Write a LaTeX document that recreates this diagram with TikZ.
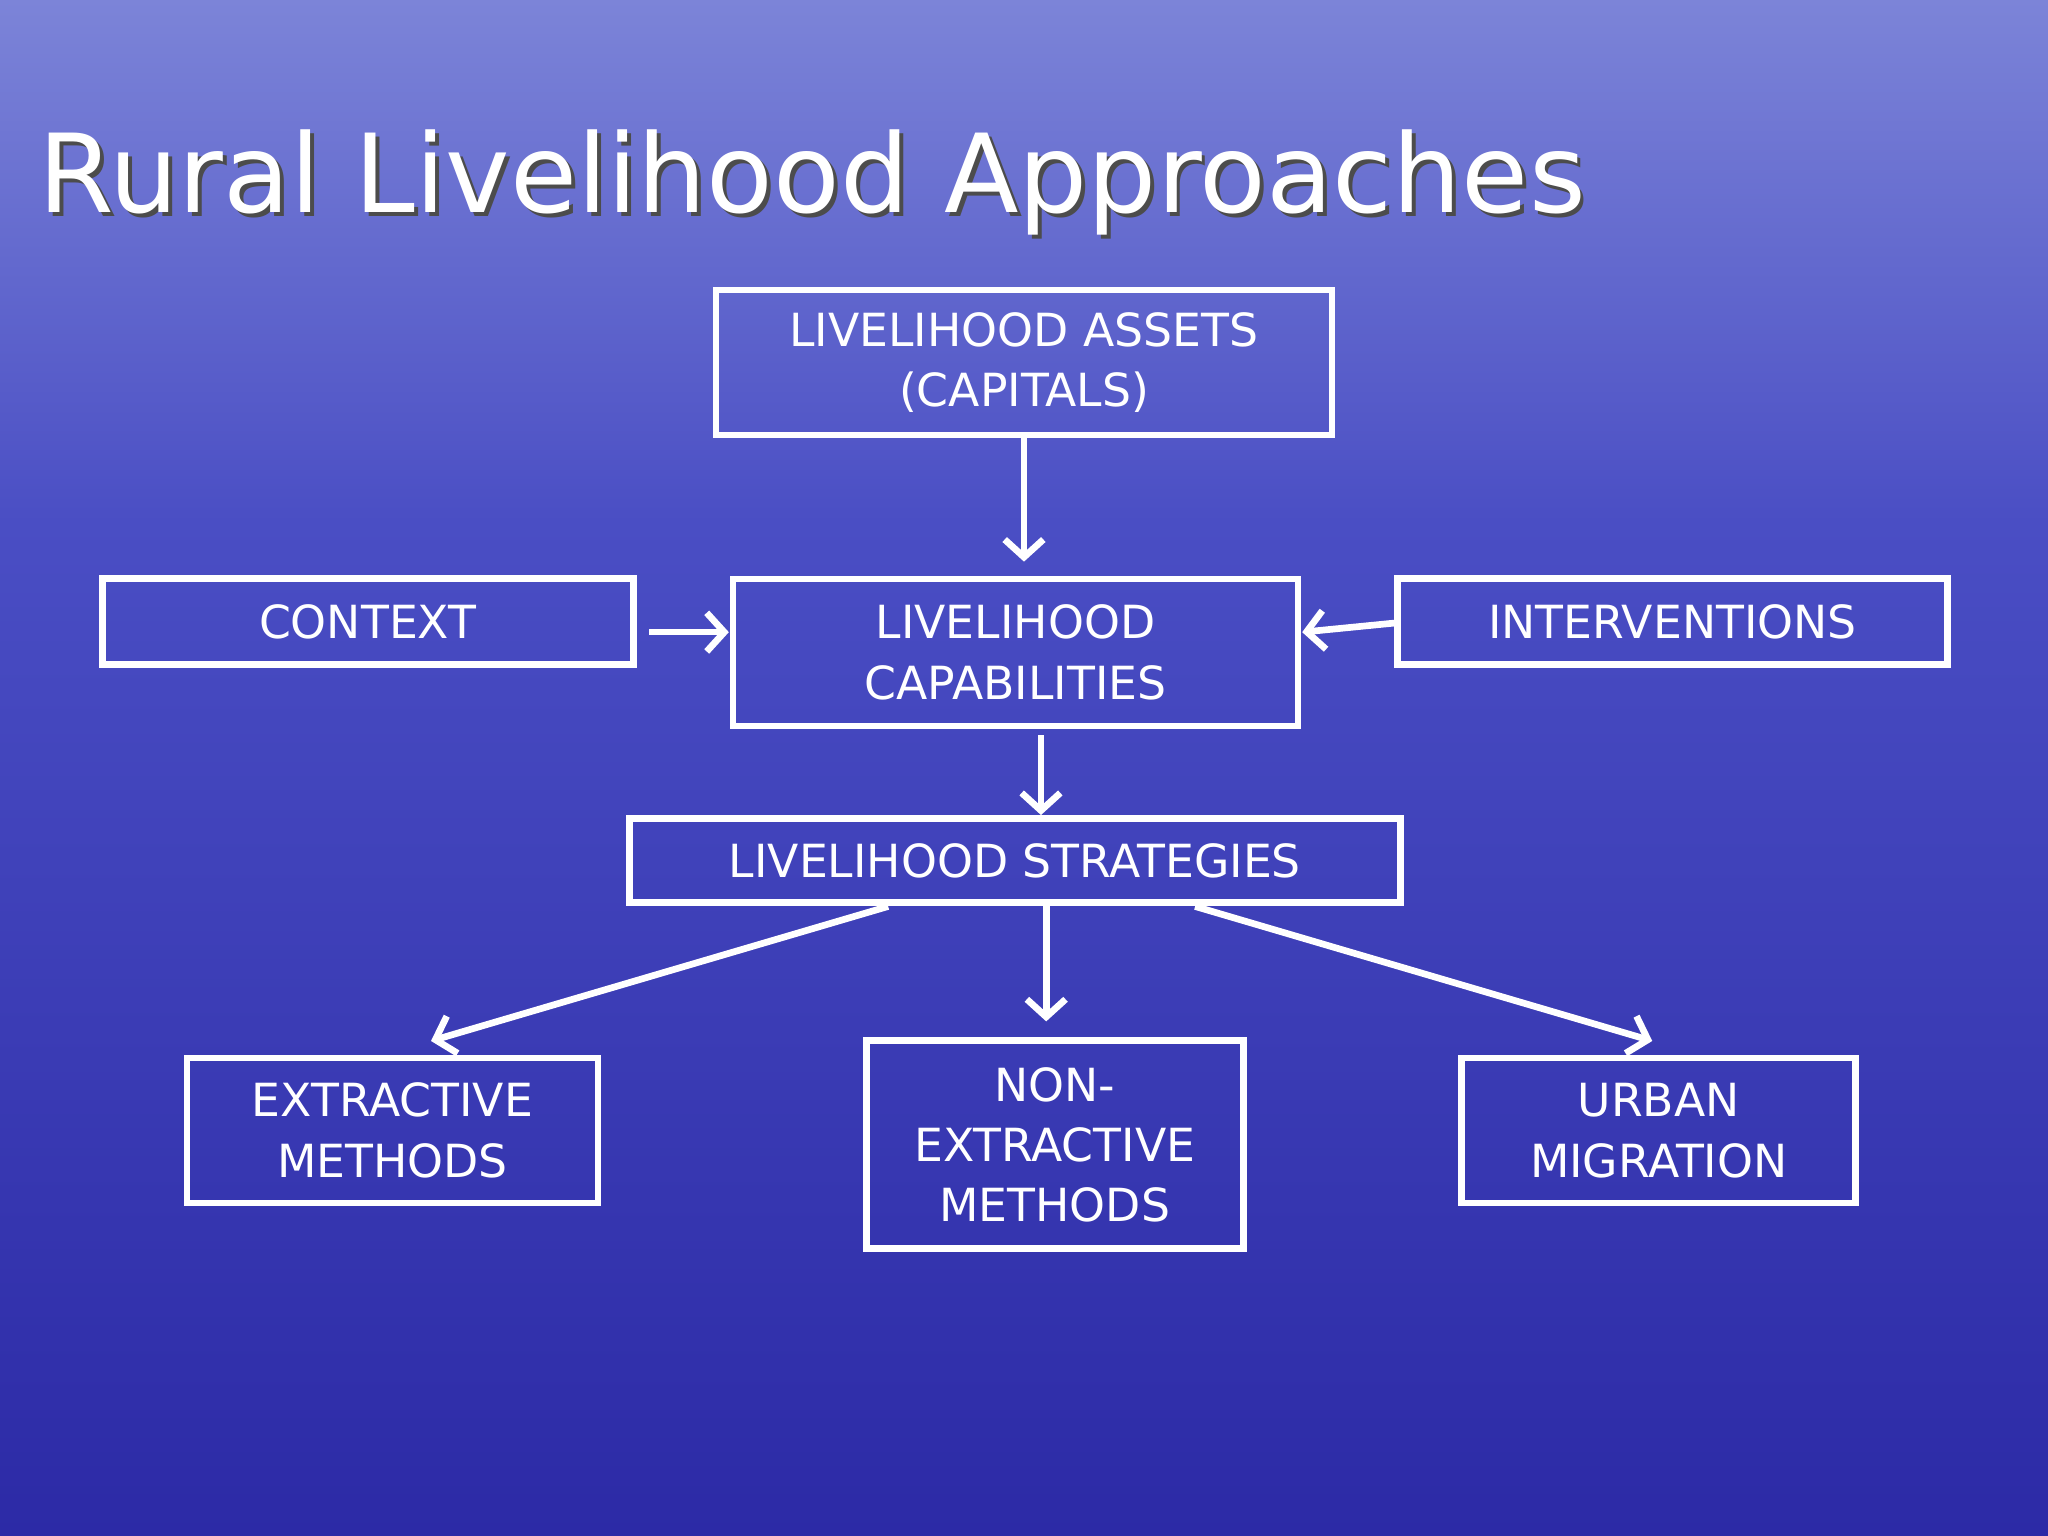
\documentclass[tikz,border=0pt]{standalone}
\usepackage{fontspec}
\setmainfont{DejaVu Sans}
\usetikzlibrary{arrows.meta}
\begin{document}
\begin{tikzpicture}[x=0.013061cm,y=-0.013061cm,
  box/.style={draw=white,line width=1.9pt,text=white,align=center,font=\fontsize{13}{17.2}\selectfont,inner sep=0pt},
  arr/.style={draw=white,line width=1.9pt,-{Straight Barb[length=5pt,width=11pt,line width=1.9pt]}}]
\definecolor{topc}{HTML}{7C84D8}
\definecolor{midc}{HTML}{4A4EC4}
\definecolor{botc}{HTML}{2C2AA6}
\shade[top color=topc,bottom color=midc] (0,0) rectangle (1568,400);
\shade[top color=midc,bottom color=botc] (0,400) rectangle (1568,1176);
\useasboundingbox (0,0) rectangle (1568,1176);
\node[anchor=base west,text=black!70,font=\fontsize{31}{38}\selectfont] at (23,166) {Rural Livelihood Approaches};
\node[anchor=base west,text=white,font=\fontsize{31}{38}\selectfont] (title) at (20,163) {Rural Livelihood Approaches};
\node[box,minimum width=6.16cm,minimum height=1.45cm] (assets) at (784,277.5) {LIVELIHOOD ASSETS\\(CAPITALS)};
\node[box,minimum width=5.31cm,minimum height=0.86cm] (context) at (281.5,476) {CONTEXT};
\node[box,minimum width=5.65cm,minimum height=1.47cm] (cap) at (777.5,499.5) {LIVELIHOOD\\CAPABILITIES};
\node[box,minimum width=5.50cm,minimum height=0.86cm] (int) at (1280.5,476) {INTERVENTIONS};
\node[box,minimum width=7.71cm,minimum height=0.84cm] (strat) at (777,659) {LIVELIHOOD STRATEGIES};
\node[box,minimum width=4.11cm,minimum height=1.45cm] (ext) at (300.5,865.5) {EXTRACTIVE\\METHODS};
\node[box,minimum width=3.77cm,minimum height=2.08cm] (non) at (807.5,876.5) {NON-\\EXTRACTIVE\\METHODS};
\node[box,minimum width=3.94cm,minimum height=1.45cm] (urb) at (1270,865.5) {URBAN\\MIGRATION};
\coordinate (c1) at (497,484);
\coordinate (c2) at (1068,477);
\draw[arr] (assets.south) -- (784,430);
\draw[arr] (c1) -- (558,484);
\draw[arr] (c2) -- (997,484);
\draw[arr] (797,563) -- (797,624);
\draw[arr] (680,694) -- (330,797);
\draw[arr] (801,694) -- (801,782);
\draw[arr] (915,694) -- (1265,797);
\end{tikzpicture}
\end{document}
